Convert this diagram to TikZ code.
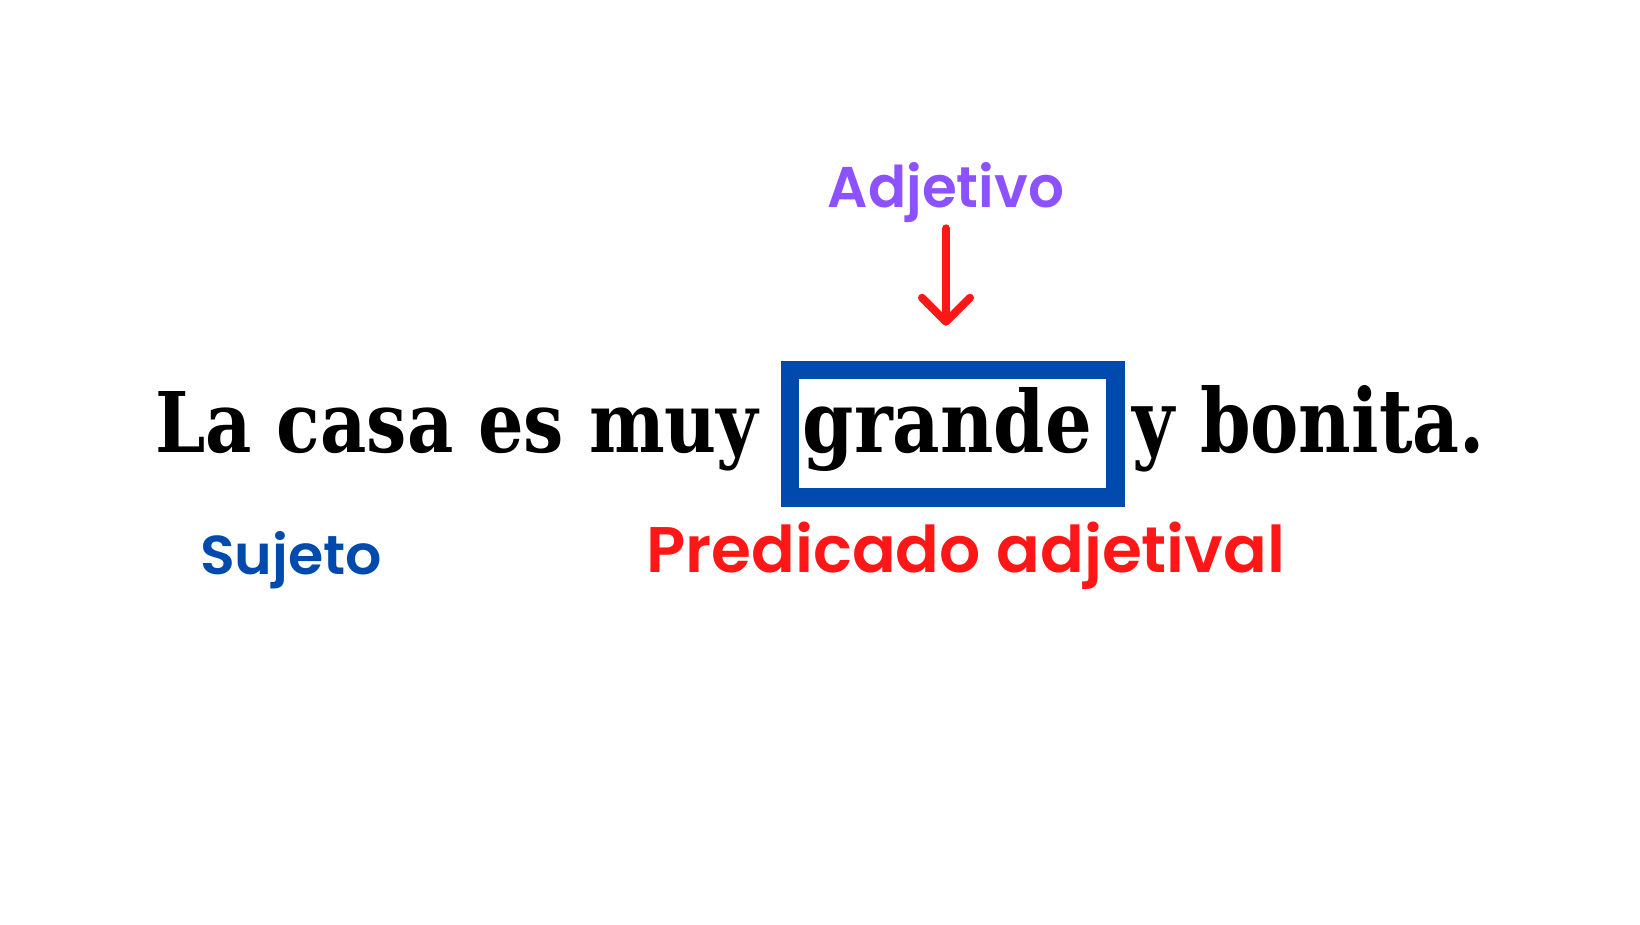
\documentclass[tikz,border=0pt]{standalone}
\usepackage{fontspec}
\usepackage{graphicx}
\usetikzlibrary{arrows.meta}
\setmainfont{DejaVu Serif}
\newfontfamily\etiqueta{Poppins}[BoldFont={Poppins SemiBold}]
\definecolor{morado}{HTML}{8C52FF}
\definecolor{azul}{HTML}{004AAD}
\definecolor{rojo}{HTML}{FF1616}
\tikzset{
  frase/.style={inner sep=0pt, font=\bfseries},
  etq/.style={inner sep=0pt, font=\etiqueta\bfseries},
  caja/.style={draw=azul, line width=18.5pt, inner sep=0pt, minimum width=325.5pt, text height=82pt, text depth=45.5pt},
  flecha/.style={draw=rojo, line width=8pt, line cap=round, -{Straight Barb[length=24pt,width=48pt,round]}}
}

\begin{document}
\begin{tikzpicture}[x=1pt,y=-1pt]
\useasboundingbox (0,0) rectangle (1640,924);

% oracion
\node[frase, anchor=base west] (la) at (155,452) {\resizebox{603pt}{61pt}{La casa es muy}};
\node[caja, frase, anchor=base] (caja) at (952.5,452) {\resizebox{289pt}{65pt}{grande}\hspace*{10pt}};
\node[frase, anchor=base east] (bonita) at (1485,452) {\resizebox{352pt}{67pt}{y bonita.}};

% etiquetas
\node[etq, text=morado, anchor=base] (adj) at (946,207) {\resizebox{236pt}{45pt}{Adjetivo}};
\node[etq, text=azul, anchor=base west] (sujeto) at (200,574) {\resizebox{182pt}{43pt}{Sujeto}};
\node[etq, text=rojo, anchor=base west] (pred) at (646,572.5) {\resizebox{639pt}{50.5pt}{Predicado adjetival}};

\draw[flecha, shorten <=6pt, shorten >=35pt] (adj.south) -- (adj.south |- caja.north);

\end{tikzpicture}
\end{document}
